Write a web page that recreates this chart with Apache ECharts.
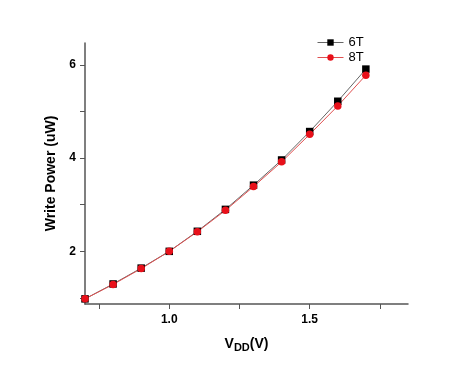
<!DOCTYPE html>
<html>
<head>
<meta charset="utf-8">
<script src="https://cdn.jsdelivr.net/npm/echarts@6/dist/echarts.min.js"></script>
<style>html,body{margin:0;padding:0;background:#fff;}#c{width:474px;height:366px;}</style>
</head>
<body>
<div id="c"></div>
<script>
var vdd = [0.7, 0.8, 0.9, 1.0, 1.1, 1.2, 1.3, 1.4, 1.5, 1.6, 1.7];
var power6T = [0.98, 1.30, 1.64, 2.00, 2.43, 2.90, 3.42, 3.96, 4.57, 5.22, 5.91];
var power8T = [0.98, 1.29, 1.63, 2.00, 2.42, 2.88, 3.39, 3.92, 4.51, 5.12, 5.78];
var xTicks = [0.75, 1.0, 1.25, 1.5, 1.75];
var xLabels = [1.0, 1.5];
var yTicks = [1, 2, 3, 4, 5, 6];
var yLabels = [2, 4, 6];

function pairs(xs, ys) { return xs.map(function (x, i) { return [x, ys[i]]; }); }

var font = 'Liberation Sans, Arial, sans-serif';
var axisColor = '#555';
var chart = echarts.init(document.getElementById('c'), null, {renderer: 'canvas'});
chart.setOption({
  backgroundColor: '#fff',
  animation: false,
  grid: {left: 85, right: 66, top: 43, bottom: 62},
  legend: {
    orient: 'vertical', left: 317, top: 36, padding: 0, itemWidth: 26, itemHeight: 8, itemGap: 2,
    textStyle: {fontFamily: font, fontSize: 13, color: '#000'},
    lineStyle: {width: 1},
    data: ['6T', '8T']
  },
  xAxis: {
    type: 'value', min: 0.7, max: 1.85,
    splitLine: {show: false},
    axisLine: {lineStyle: {color: axisColor, width: 1.5}},
    axisTick: {show: true, length: 5, lineStyle: {color: axisColor}, customValues: xTicks},
    axisLabel: {customValues: xLabels, fontFamily: font, fontWeight: 'bold', fontSize: 12, color: '#000', margin: 10,
      formatter: function (v) { return v.toFixed(1); }},
    name: 'V{sub|DD}(V)', nameLocation: 'middle', nameGap: 32,
    nameTextStyle: {fontFamily: font, fontWeight: 'bold', fontSize: 14, color: '#000',
      rich: {sub: {fontFamily: font, fontWeight: 'bold', fontSize: 11, color: '#000', verticalAlign: 'bottom', padding: [6, 0, 0, 0]}}}
  },
  yAxis: {
    type: 'value', min: 0.87, max: 6.47,
    splitLine: {show: false},
    axisLine: {show: true, lineStyle: {color: axisColor, width: 1.5}},
    axisTick: {show: true, length: 5, lineStyle: {color: axisColor}, customValues: yTicks},
    axisLabel: {customValues: yLabels, fontFamily: font, fontWeight: 'bold', fontSize: 12, color: '#000', margin: 9},
    name: 'Write Power (uW)', nameLocation: 'middle', nameGap: 25,
    nameTextStyle: {fontFamily: font, fontWeight: 'bold', fontSize: 14, color: '#000'}
  },
  series: [
    {name: '6T', type: 'line', data: pairs(vdd, power6T), symbol: 'rect', symbolSize: 7.5,
      lineStyle: {color: '#666', width: 1}, itemStyle: {color: '#000'}},
    {name: '8T', type: 'line', data: pairs(vdd, power8T), symbol: 'circle', symbolSize: 7.5,
      lineStyle: {color: '#e05050', width: 1}, itemStyle: {color: '#e8101a'}}
  ]
});
</script>
</body>
</html>
